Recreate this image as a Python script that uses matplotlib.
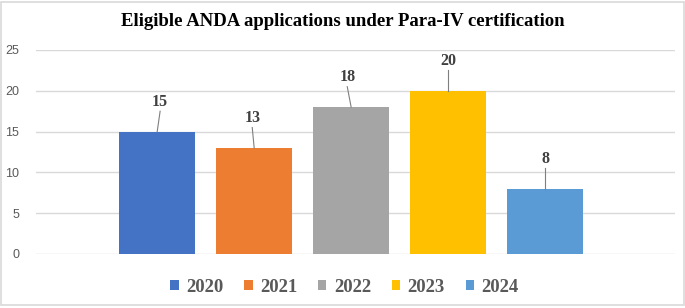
import matplotlib.pyplot as plt
from matplotlib.patches import Rectangle

years = ['2020', '2021', '2022', '2023', '2024']
counts = [15, 13, 18, 20, 8]
colors = ['#4472C4', '#ED7D31', '#A5A5A5', '#FFC000', '#5B9BD5']
# small tilt of each leader line (top end shift, in bar units)
tilts = [0.03, -0.02, -0.04, 0.0, 0.0]

fig = plt.figure(figsize=(6.85, 3.08), dpi=100)
ax = fig.add_axes([36/685, 1-254/308, 639/685, 204/308])

x = list(range(len(years)))
bars = ax.bar(x, counts, width=0.78, color=colors, zorder=3)

for xi, v, t in zip(x, counts, tilts):
    ax.plot([xi, xi + t], [v, v + 2.5], color='#7f7f7f', lw=0.8, zorder=4)
    ax.text(xi + t, v + 2.7, str(v), ha='center', va='bottom',
            fontsize=11.5, fontweight='bold', family='Liberation Serif',
            color='#404040')

ax.set_ylim(0, 25)
ax.set_yticks([0, 5, 10, 15, 20, 25])
ax.set_xlim(-1.25, 5.34)
ax.set_xticks([])
ax.grid(axis='y', color='#D9D9D9', lw=1, zorder=0)
for s in ax.spines.values():
    s.set_visible(False)
ax.tick_params(axis='y', length=0, pad=12, labelsize=9, labelcolor='#595959')
for t in ax.get_yticklabels():
    t.set_family('Liberation Sans')

fig.text(0.5, 1-22/308, 'Eligible ANDA applications under Para-IV certification',
         ha='center', va='center', fontsize=13.5, fontweight='bold',
         family='Liberation Serif', color='black')

leg = fig.legend(handles=bars, labels=years, loc='center',
                 bbox_to_anchor=(0.503, 1-287/308), ncol=5, frameon=False,
                 handlelength=0.45, handleheight=0.45, handletextpad=0.4,
                 columnspacing=1.1,
                 prop={'family': 'Liberation Serif', 'weight': 'bold', 'size': 13.5})
for t in leg.get_texts():
    t.set_color('#595959')

fig.patches.append(Rectangle((0.002, 0.01), 0.996, 0.985, transform=fig.transFigure,
                             fill=False, edgecolor='#D9D9D9', lw=1.2))

fig.savefig('out.png', dpi=100)
